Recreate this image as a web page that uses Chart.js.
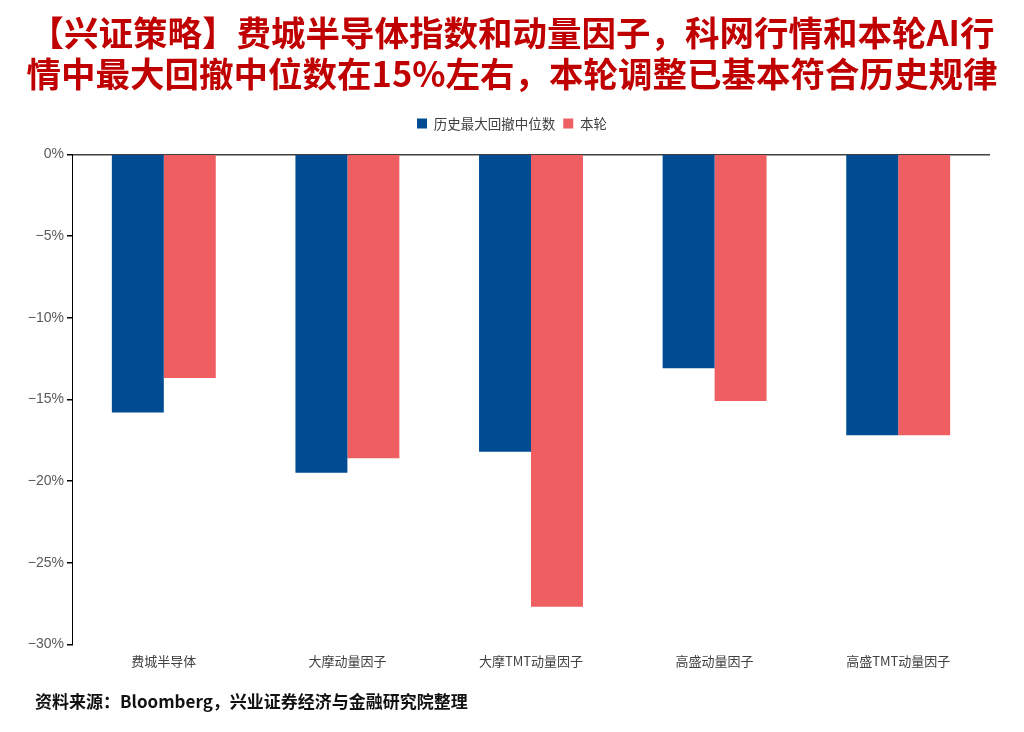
<!DOCTYPE html>
<html>
<head>
<meta charset="utf-8">
<script src="https://cdn.jsdelivr.net/npm/chart.js@4.4.0/dist/chart.umd.min.js"></script>
<style>
  html, body { margin: 0; padding: 0; background: #fff; }
  #wrap { position: relative; width: 1024px; height: 732px; }
  #source {
    position: absolute; left: 35px; top: 688px;
    font-family: "Noto Sans CJK SC", "Noto Sans", sans-serif;
    font-weight: bold; font-size: 17px; color: #111;
  }
</style>
</head>
<body>
<div id="wrap">
  <canvas id="drawdownChart" width="1024" height="732"></canvas>
  <div id="source">资料来源：Bloomberg，兴业证券经济与金融研究院整理</div>
</div>
<script>
const categories = ['费城半导体', '大摩动量因子', '大摩TMT动量因子', '高盛动量因子', '高盛TMT动量因子']
const historyMedian = [-15.8, -19.5, -18.2, -13.1, -17.2]
const currentRound = [-13.7, -18.6, -27.7, -15.1, -17.2]
const yTicks = [0, -5, -10, -15, -20, -25, -30]

const ctx = document.getElementById('drawdownChart').getContext('2d')

// extra room under the legend
const legendGap = {
    id: 'legendGap',
    beforeInit(chart) {
        const fit = chart.legend.fit
        chart.legend.fit = function () {
            fit.bind(chart.legend)()
            this.height += 14
        }
    }
}

const drawdownChart = new Chart(ctx, {
    type: 'bar',
    data: {
        labels: categories,
        datasets: [{
            label: '历史最大回撤中位数',
            data: historyMedian,
            backgroundColor: '#004C92',
        }, {
            label: '本轮',
            data: currentRound,
            backgroundColor: '#EF5F61',
        }]
    },
    plugins: [legendGap],
    options: {
        responsive: false,
        animation: false,
        categoryPercentage: 0.566,
        barPercentage: 1.0,
        layout: {
            padding: { left: 0, right: 0, top: 0, bottom: 62 }
        },
        plugins: {
            title: {
                display: true,
                text: ['【兴证策略】费城半导体指数和动量因子，科网行情和本轮AI行',
                       '情中最大回撤中位数在15%左右，本轮调整已基本符合历史规律'],
                color: '#C00000',
                font: { family: '"Noto Sans CJK SC"', size: 34.5, weight: 'bold', lineHeight: 1.2 },
                padding: { top: 12, bottom: 14 }
            },
            legend: {
                position: 'top',
                labels: {
                    boxWidth: 10,
                    boxHeight: 10,
                    padding: 8,
                    color: '#404040',
                    font: { family: '"Noto Sans CJK SC"', size: 13.5 }
                }
            },
            tooltip: { enabled: false }
        },
        scales: {
            x: {
                position: 'bottom',
                grid: { display: false },
                border: { display: false },
                ticks: {
                    color: '#404040',
                    padding: 1,
                    maxRotation: 0,
                    font: { family: '"Noto Sans CJK SC"', size: 13 }
                }
            },
            y: {
                min: -30,
                max: 0,
                afterFit: (scale) => { scale.width = 72 },
                afterBuildTicks: (scale) => { scale.ticks = yTicks.map(v => ({ value: v })) },
                border: { display: true, color: '#000', width: 1 },
                grid: {
                    color: (c) => c.tick && c.tick.value === 0 ? '#404040' : 'rgba(0,0,0,0)',
                    lineWidth: 1.5,
                    tickColor: '#000',
                    tickLength: 5,
                    drawOnChartArea: true
                },
                ticks: {
                    color: '#595959',
                    padding: 3,
                    font: { family: 'Liberation Sans', size: 14 },
                    callback: (v) => (v < 0 ? '\u2212' : '') + Math.abs(v) + '%'
                }
            },
            yRight: {
                position: 'right',
                min: -30,
                max: 0,
                afterFit: (scale) => { scale.width = 34 },
                grid: { display: false },
                border: { display: false },
                ticks: { display: false }
            }
        }
    }
})
</script>
</body>
</html>
